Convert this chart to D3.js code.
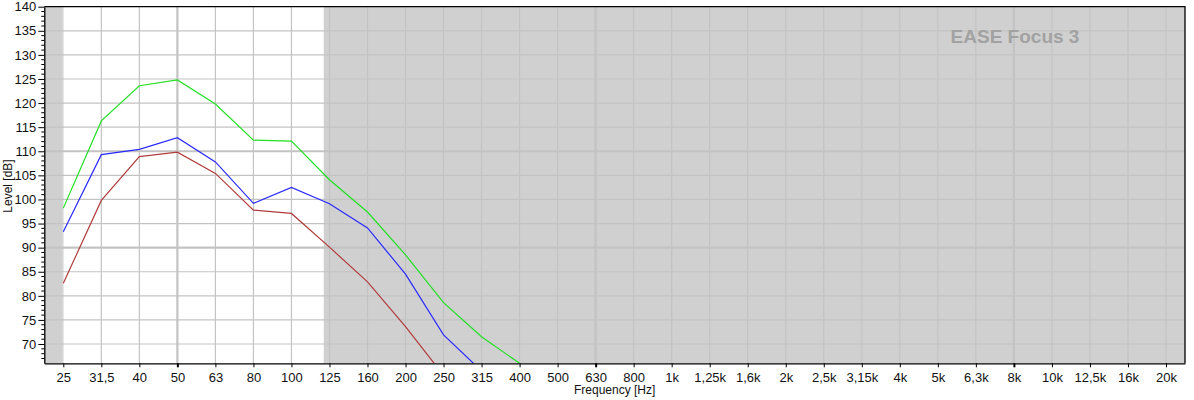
<!DOCTYPE html>
<html>
<head>
<meta charset="utf-8">
<script src="https://cdn.jsdelivr.net/npm/d3@7"></script>
<style>
    body { margin: 0; background: #fff; }
    text { font-family: "Liberation Sans", Arial, sans-serif; }
</style>
</head>
<body>
<div id="chart-container"></div>
<script>
// 1/3 octave bands, tick labels as shown on the x axis.
const bandLabels = ["25", "31,5", "40", "50", "63", "80", "100", "125", "160", "200", "250", "315",
    "400", "500", "630", "800", "1k", "1,25k", "1,6k", "2k", "2,5k", "3,15k", "4k", "5k", "6,3k",
    "8k", "10k", "12,5k", "16k", "20k"];

// Levels in dB per band, null where nothing is drawn.
const greenLevels = [98.2, 116.3, 123.6, 124.8, 119.8, 112.3, 112.1, 104.1, 97.4, 88.5, 78.6, 71.5, 66.0, 61.0];
const blueLevels  = [93.3, 109.3, 110.4, 112.8, 107.8, 99.2, 102.5, 99.1, 94.1, 84.5, 71.9, 64.4];
const brownLevels = [82.6, 99.8, 108.9, 109.8, 105.4, 97.8, 97.1, 90.1, 82.9, 73.6, 63.5];

const levelTicks = [70, 75, 80, 85, 90, 95, 100, 105, 110, 115, 120, 125, 130, 135, 140];
const strongLevels = [90, 110];
const strongBands = ["50", "630", "8k"];

// Shaded (outside range) regions, in band index units.
const shadedRanges = [[-0.5, 0], [6.85, 29.5]];

const chartWidth = 1194;
const chartHeight = 400;
const plotLeft = 44.3;
const plotRight = 1185;
const plotTop = 6.7;
const plotBottom = 363.3;

const x = d3.scaleLinear()
    .domain([-0.5, bandLabels.length - 0.5])
    .range([plotLeft, plotRight]);

const y = d3.scaleLinear()
    .domain([66, 140])
    .range([plotBottom, plotTop]);

const chart = d3.select("#chart-container").append("svg")
    .attr("width", chartWidth)
    .attr("height", chartHeight);

chart.append("defs").append("clipPath")
    .attr("id", "plot-clip")
    .append("rect")
    .attr("x", plotLeft)
    .attr("y", plotTop)
    .attr("width", plotRight - plotLeft)
    .attr("height", plotBottom - plotTop);

// shaded regions
chart.selectAll(".shade")
    .data(shadedRanges)
    .enter()
    .append("rect")
    .attr("class", "shade")
    .attr("x", d => x(d[0]))
    .attr("y", plotTop)
    .attr("width", d => x(d[1]) - x(d[0]))
    .attr("height", plotBottom - plotTop)
    .attr("fill", "#d0d0d0");

// vertical grid
chart.append("g")
    .selectAll("line")
    .data(bandLabels)
    .enter()
    .append("line")
    .attr("x1", (d, i) => x(i))
    .attr("x2", (d, i) => x(i))
    .attr("y1", plotTop)
    .attr("y2", plotBottom)
    .attr("stroke", (d, i) => i === 0 ? "#e6e6e6" : "#c3c3c3")
    .attr("stroke-width", d => strongBands.includes(d) ? 2.2 : 1.2);

// horizontal grid
chart.append("g")
    .selectAll("line")
    .data(levelTicks.filter(d => d < 140))
    .enter()
    .append("line")
    .attr("x1", plotLeft)
    .attr("x2", plotRight)
    .attr("y1", d => y(d))
    .attr("y2", d => y(d))
    .attr("stroke", "#c3c3c3")
    .attr("stroke-width", d => strongLevels.includes(d) ? 2.2 : 1.2);

// curves
const line = d3.line()
    .defined(d => d != null)
    .x((d, i) => x(i))
    .y(d => y(d));

const curves = [
    {values: brownLevels, color: "#b03c3c"},
    {values: blueLevels, color: "#2a2aff"},
    {values: greenLevels, color: "#22e022"}
];

chart.append("g")
    .attr("clip-path", "url(#plot-clip)")
    .selectAll("path")
    .data(curves)
    .enter()
    .append("path")
    .attr("d", d => line(d.values))
    .attr("fill", "none")
    .attr("stroke", d => d.color)
    .attr("stroke-width", 1.2);

// frame: top and right border
chart.append("path")
    .attr("d", `M${plotLeft},${plotTop}H${plotRight}V${plotBottom}`)
    .attr("fill", "none")
    .attr("stroke", "#000")
    .attr("stroke-width", 1.3);

// y axis
const yAxis = chart.append("g")
    .attr("transform", `translate(${plotLeft}, 0)`)
    .call(d3.axisLeft(y).tickValues(levelTicks).tickSize(6).tickPadding(2).tickSizeOuter(0));
yAxis.select(".domain").attr("stroke-width", 1.3);
yAxis.selectAll(".tick text")
    .attr("font-size", 13)
    .attr("font-family", "Liberation Sans, Arial, sans-serif")
    .attr("fill", "#111");

// minor ticks each dB
chart.append("g")
    .selectAll("line")
    .data(d3.range(67, 140).filter(d => d % 5 !== 0))
    .enter()
    .append("line")
    .attr("x1", plotLeft - 3)
    .attr("x2", plotLeft)
    .attr("y1", d => y(d))
    .attr("y2", d => y(d))
    .attr("stroke", "#000");

// x axis
const xAxis = chart.append("g")
    .attr("transform", `translate(0, ${plotBottom})`)
    .call(d3.axisBottom(x)
        .tickValues(d3.range(bandLabels.length))
        .tickFormat(i => bandLabels[i])
        .tickSize(4)
        .tickPadding(5)
        .tickSizeOuter(0));
xAxis.select(".domain").attr("stroke-width", 1.3);
xAxis.selectAll(".tick line")
    .attr("stroke-width", (d) => strongBands.includes(bandLabels[d]) ? 2 : 1);
xAxis.selectAll(".tick text")
    .attr("font-size", 13)
    .attr("font-family", "Liberation Sans, Arial, sans-serif")
    .attr("fill", "#111");

// axis titles
chart.append("text")
    .attr("x", (plotLeft + plotRight) / 2)
    .attr("y", 394)
    .attr("text-anchor", "middle")
    .attr("font-size", 12)
    .attr("fill", "#111")
    .text("Frequency [Hz]");

chart.append("text")
    .attr("transform", "translate(12, 186) rotate(-90)")
    .attr("text-anchor", "middle")
    .attr("font-size", 12)
    .attr("fill", "#111")
    .text("Level [dB]");

// watermark
chart.append("text")
    .attr("x", 1015)
    .attr("y", 42.7)
    .attr("text-anchor", "middle")
    .attr("font-size", 19)
    .attr("font-weight", "bold")
    .attr("fill", "#a2a2a2")
    .text("EASE Focus 3");
</script>
</body>
</html>
